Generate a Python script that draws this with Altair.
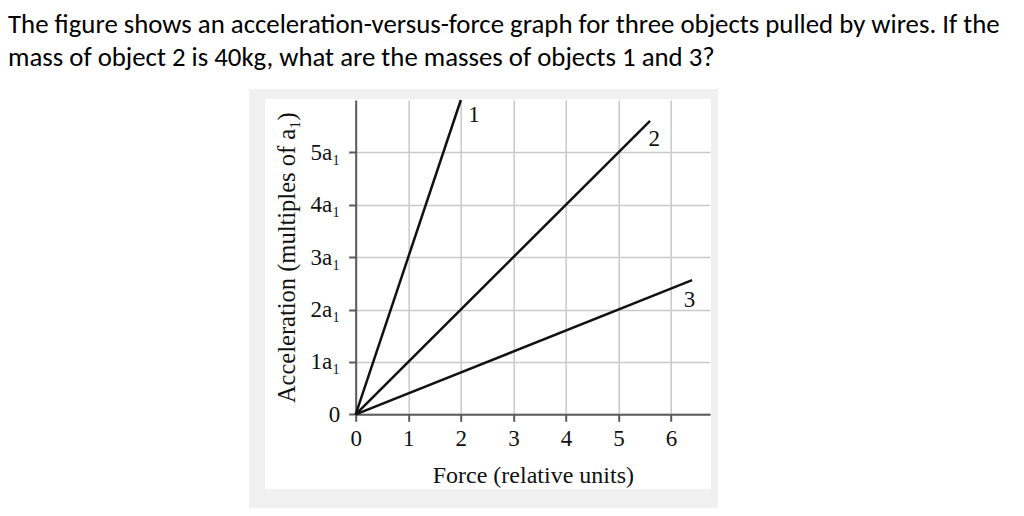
import altair as alt
import pandas as pd

# ---- data ----
objects = ["1", "2", "3"]
end_force = [2.0, 5.6, 6.4]      # force at the end of each line
end_accel = [6.0, 5.6, 2.56]     # acceleration (multiples of a1) at the end
label_force = [2.25, 5.68, 6.35]
label_accel = [5.71, 5.26, 2.19]
x_ticks = [0, 1, 2, 3, 4, 5, 6]
y_ticks = [0, 1, 2, 3, 4, 5]
question = [
    "The figure shows an acceleration-versus-force graph for three objects pulled by wires. If the",
    "mass of object 2 is 40kg, what are the masses of objects 1 and 3?",
]

rows = []
for o, f, a in zip(objects, end_force, end_accel):
    rows.append({"object": o, "force": 0.0, "accel": 0.0, "order": 0})
    rows.append({"object": o, "force": f, "accel": a, "order": 1})
lines_df = pd.DataFrame(rows)
labels_df = pd.DataFrame({"object": objects, "force": label_force, "accel": label_accel})

W, H = 354.3, 314.3
PAD_L, PAD_T = 347.7, 92
SERIF = "Liberation Serif, Times New Roman, serif"
INK = "#111111"
AXC = "#5a5a5a"
GRID = "#c9c9c9"
FRAME = "#f0f0f0"

x_scale = alt.Scale(domain=[0, 6.74], nice=False, zero=False)
y_scale = alt.Scale(domain=[0, 6], nice=False, zero=False)

x_axis = alt.Axis(
    values=x_ticks, title="Force (relative units)", grid=True,
    gridColor=GRID, gridWidth=1.5, domainColor=AXC, domainWidth=2,
    tickColor=AXC, tickWidth=2, tickSize=7, labelPadding=6,
    labelFont=SERIF, labelFontSize=23, labelColor=INK, labelFlush=False,
    labelOverlap=False, titleFont=SERIF, titleFontSize=24,
    titleFontWeight="normal", titleColor=INK, titleX=W / 2, titleY=61,
    titleBaseline="middle", titleAlign="center",
)
y_axis = alt.Axis(
    values=y_ticks, title="Acceleration (multiples of a\u2081)", grid=True,
    gridColor=GRID, gridWidth=1.5, domainColor=AXC, domainWidth=2,
    tickColor=AXC, tickWidth=2, tickSize=7, labelPadding=9,
    labelFont=SERIF, labelFontSize=23, labelColor=INK, labelFlush=False,
    labelOverlap=False,
    labelExpr="datum.value == 0 ? '0' : datum.value + 'a\u2081'",
    titleFont=SERIF, titleFontSize=24.5, titleFontWeight="normal",
    titleColor=INK, titleX=-68.7, titleY=H / 2, titleAngle=270,
    titleBaseline="middle", titleAlign="center",
)

lines = alt.Chart(lines_df).mark_line(color=INK, strokeWidth=2.5).encode(
    x=alt.X("force:Q", scale=x_scale, axis=x_axis),
    y=alt.Y("accel:Q", scale=y_scale, axis=y_axis),
    detail="object:N",
    order="order:Q",
)

labels = alt.Chart(labels_df).mark_text(font=SERIF, fontSize=23, color=INK).encode(
    x=alt.X("force:Q", scale=x_scale),
    y=alt.Y("accel:Q", scale=y_scale),
    text="object:N",
)

def strip(x1, x2, y1, y2):
    return alt.Chart(alt.Data(values=[{}])).mark_rect(color=FRAME).encode(
        x=alt.value(x1), x2=alt.value(x2), y=alt.value(y1), y2=alt.value(y2)
    )

frame = [
    strip(-106.7, -90.7, -11, 430),
    strip(355.3, 362.3, -11, 430),
    strip(-106.7, 362.3, -11, -1),
    strip(-106.7, 362.3, 389, 430),
]

chart = alt.layer(*frame, lines, labels).properties(
    width=W, height=H,
    title=alt.Title(
        question, anchor="start", frame="group", font="Carlito, Lato, sans-serif",
        fontSize=26.8, fontWeight="normal", color="#000000", lineHeight=33.5,
        dx=-PAD_L, dy=3, offset=20, baseline="top",
    ),
    autosize=alt.AutoSizeParams(type="none"),
    padding={"left": PAD_L, "top": PAD_T, "right": 1008 - PAD_L - W, "bottom": 500 - PAD_T - H},
    background="white",
).configure_view(stroke=None)

chart.save("out.html", embed_options={"renderer": "svg", "actions": False})
